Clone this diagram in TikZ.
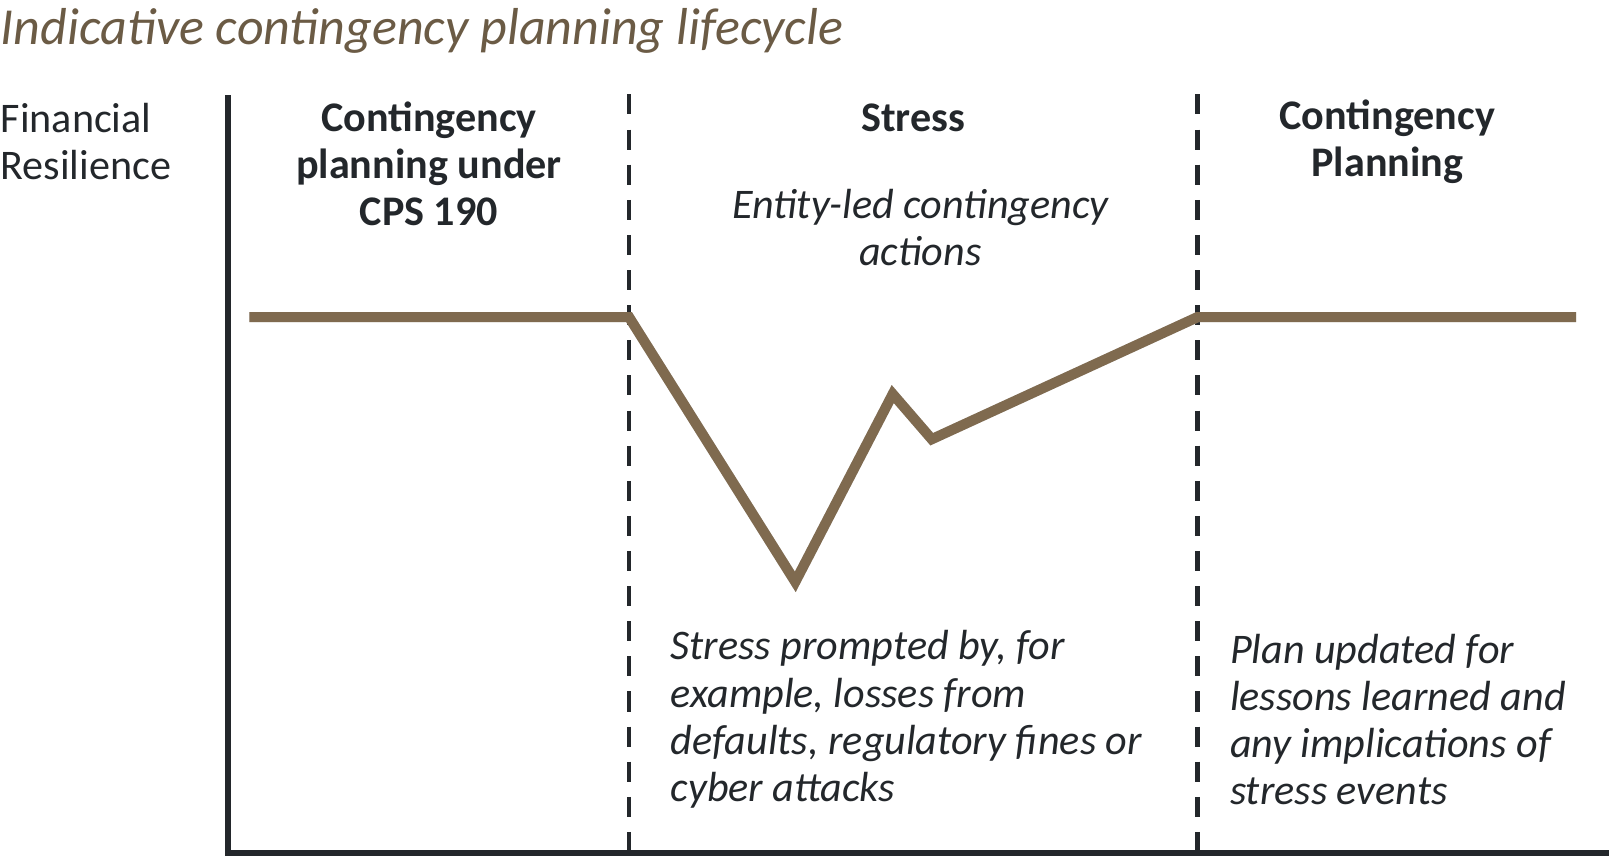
\documentclass[tikz,border=0pt]{standalone}
\usepackage{fontspec}
\setmainfont{Carlito}
\definecolor{lifebrown}{HTML}{7F6A4F}
\definecolor{titlebrown}{HTML}{6B5B45}
\definecolor{axisgray}{HTML}{23272B}
\begin{document}
\begin{tikzpicture}[x=0.010262cm,y=-0.010262cm]
  \tikzstyle{every node}+=[inner sep=0pt, text=axisgray, font=\fontsize{12}{13.4}\selectfont]
  \tikzstyle{phasehead}=[font=\fontsize{12}{13.4}\selectfont\bfseries, align=center]
  \tikzstyle{phasenote}=[font=\fontsize{12}{13.4}\selectfont\itshape, align=left, anchor=west]
  \tikzstyle{divider}=[axisgray, line width=1.4pt, dash pattern=on 5.7pt off 4.3pt]
  \tikzstyle{resline}=[lifebrown, line width=2.9pt, line join=miter]
  \useasboundingbox (0,0) rectangle (1568,836);
  % axes
  \coordinate (ytop) at (222,93);
  \coordinate (orig) at (222,831);
  \coordinate (xend) at (1568,831);
  \draw [axisgray, line width=1.6pt] (ytop) -- (orig) -- (xend);
  \coordinate (d1top) at (613,92);
  \coordinate (d1bot) at (613,829);
  \coordinate (d2top) at (1167,92);
  \coordinate (d2bot) at (1167,829);
  \draw [divider] (d1top) -- (d1bot);
  \draw [divider] (d2top) -- (d2bot);
  % resilience path
  \coordinate (r0) at (243,309);
  \coordinate (r1) at (613,309);
  \coordinate (r2) at (775,567);
  \coordinate (r3) at (870,384);
  \coordinate (r4) at (908,428);
  \coordinate (r5) at (1167,309);
  \coordinate (r6) at (1536,309);
  \draw [black!25, opacity=0.5, line width=2.9pt, shift={(3,4)}] (r0) -- (r1) -- (r2) -- (r3) -- (r4) -- (r5) -- (r6);
  \draw [resline] (r0) -- (r1) -- (r2) -- (r3) -- (r4) -- (r5) -- (r6);
  % labels
  \node (title) [anchor=west, text=titlebrown, font=\fontsize{14.8}{17}\selectfont\itshape] at (0,30) {Indicative contingency planning lifecycle};
  \node (axislabel) [anchor=west, align=left] at (0,138) {Financial\\Resilience};
  \node (plan) [phasehead] at (418,160) {Contingency\\planning under\\CPS 190};
  \node (stress) [phasehead] at (890,115) {Stress};
  \node (actions) [font=\fontsize{12}{13.4}\selectfont\itshape, align=center] at (897,222) {Entity-led contingency\\actions};
  \node (replan) [phasehead] at (1352,138) {Contingency\\Planning};
  \node (stressnote) [phasenote] at (653,701) {Stress prompted by, for\\example, losses from\\defaults, regulatory fines or\\cyber attacks};
  \node (plannote) [phasenote] at (1198,701) {Plan updated for\\lessons learned and\\any implications of\\stress events};
\end{tikzpicture}
\end{document}
